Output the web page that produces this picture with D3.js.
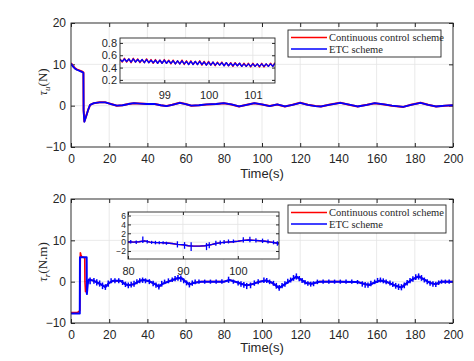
<!DOCTYPE html>
<html>
<head>
<meta charset="utf-8">
<script src="https://cdn.jsdelivr.net/npm/d3@7"></script>
<style>
  body { margin: 0; background: #fff; }
  .tick text { font-family: "Liberation Sans", Arial, sans-serif; fill: #262626; }
  .legend text { font-family: "Liberation Serif", "Times New Roman", serif; fill: #262626; }
</style>
</head>
<body>
<div id="chart"></div>
<script>
// ---- data ----
const mainXTicks = [0, 20, 40, 60, 80, 100, 120, 140, 160, 180, 200];
const mainYTicks = [-10, 0, 10, 20];
const legendLabels = ['Continuous control scheme', 'ETC scheme'];

// tau_u, main view
const tuTime = [0, 1, 2, 3, 4, 5, 6, 6.5, 6.6, 7, 8, 9, 10, 12, 15, 18, 21, 24, 27, 30, 33, 36, 40, 44, 47, 50, 53, 57, 60, 63, 67, 71, 76, 80, 84, 88, 92, 96, 100, 104, 108, 112, 116, 120, 124, 128, 131, 135, 141, 145, 150, 155, 159, 164, 168, 174, 178, 183, 187, 191, 196, 200];
const tuCont = [10.3, 9.6, 9.1, 8.8, 8.6, 8.4, 8.2, 8.0, -1.0, -3.8, -2.4, -1.0, 0.2, 0.6, 0.8, 0.8, 0.4, 0.0, 0.1, 0.4, 0.6, 0.5, 0.4, 0.4, 0.1, -0.1, 0.2, 0.7, 0.4, 0.0, 0.1, 0.3, 0.4, 0.6, 0.3, -0.2, 0.2, 0.6, 0.3, -0.1, 0.3, -0.2, 0.2, 0.7, 0.2, -0.1, -0.2, 0.2, 0.7, 0.3, -0.2, 0.2, 0.6, 0.3, 0.0, -0.3, 0.2, 0.7, 0.2, -0.2, 0.0, 0.1];
const tuEtc = [10.2, 9.5, 9.0, 8.7, 8.5, 8.3, 8.1, 7.9, -1.2, -3.9, -2.5, -1.0, 0.2, 0.6, 0.8, 0.8, 0.4, 0.0, 0.1, 0.4, 0.6, 0.5, 0.4, 0.4, 0.1, -0.1, 0.2, 0.7, 0.4, 0.0, 0.1, 0.3, 0.4, 0.6, 0.3, -0.2, 0.2, 0.6, 0.3, -0.1, 0.3, -0.2, 0.2, 0.7, 0.2, -0.1, -0.2, 0.2, 0.7, 0.3, -0.2, 0.2, 0.6, 0.3, 0.0, -0.3, 0.2, 0.7, 0.2, -0.2, 0.0, 0.1];

// tau_u, zoomed window 98 .. 101.5 s, sampled every 0.05 s
const tuInsetStart = 98, tuInsetStep = 0.05;
const tuInsetCont = [0.54, 0.49, 0.55, 0.49, 0.54, 0.48, 0.55, 0.49, 0.54, 0.48,
  0.53, 0.48, 0.54, 0.48, 0.53, 0.47, 0.53, 0.47, 0.52, 0.47,
  0.53, 0.47, 0.52, 0.46, 0.52, 0.46, 0.51, 0.46, 0.52, 0.45,
  0.51, 0.45, 0.51, 0.45, 0.50, 0.45, 0.51, 0.44, 0.50, 0.44,
  0.50, 0.44, 0.49, 0.43, 0.49, 0.44, 0.49, 0.43, 0.48, 0.43,
  0.48, 0.42, 0.48, 0.43, 0.47, 0.42, 0.47, 0.42, 0.47, 0.41,
  0.47, 0.42, 0.46, 0.41, 0.47, 0.41, 0.46, 0.42, 0.47, 0.42, 0.48];
const tuInsetEtc = [0.53, 0.50, 0.54, 0.50, 0.54, 0.49, 0.54, 0.49, 0.53, 0.49,
  0.53, 0.48, 0.53, 0.48, 0.52, 0.48, 0.52, 0.47, 0.52, 0.47,
  0.52, 0.47, 0.51, 0.47, 0.51, 0.46, 0.51, 0.46, 0.51, 0.46,
  0.50, 0.45, 0.50, 0.45, 0.50, 0.45, 0.50, 0.45, 0.49, 0.44,
  0.49, 0.44, 0.49, 0.44, 0.48, 0.44, 0.48, 0.43, 0.48, 0.43,
  0.47, 0.43, 0.47, 0.43, 0.47, 0.42, 0.46, 0.42, 0.46, 0.42,
  0.46, 0.42, 0.46, 0.42, 0.46, 0.42, 0.46, 0.42, 0.46, 0.42, 0.47];
const tuInsetXTicks = [99, 100, 101];
const tuInsetYTicks = [0.2, 0.4, 0.6, 0.8];

// tau_r, main view
const trContTime = [0, 3.5, 4.3, 4.6, 4.9, 5.2, 5.6, 7.2, 7.3, 7.6, 8.6, 9.4, 12, 15, 18, 20, 22, 26, 28, 30, 33, 36, 38, 41, 44, 46, 48, 52, 56, 58, 60, 62, 64, 68, 75, 80, 83, 86, 89, 92, 95, 98, 102, 105, 109, 112, 115, 118, 120, 123, 126, 130, 140, 150, 154, 156, 159, 162, 165, 170, 173, 176, 179, 182, 185, 188, 191, 194, 200];
const trCont = [-7.5, -7.4, -7.2, -6.9, 7.0, 6.5, 6.0, 5.8, 0.0, -2.4, -0.5, 0.5, 0.2, -0.5, -1.3, -0.3, 0.2, 0.2, -0.5, -0.9, -0.6, 0.2, 0.4, 0.1, -0.6, -1.2, -0.5, 0.2, 0.9, 0.8, 0.0, -0.7, -0.3, 0.0, 0.0, 0.0, 0.4, 0.0, -0.5, -0.9, -0.6, -0.1, 0.3, -0.2, -1.5, -0.6, 0.3, 1.2, 0.6, -0.3, -0.5, 0.0, 0.0, -0.1, -0.6, -0.8, -0.2, 0.3, 0.0, -1.0, -1.4, -0.3, 0.6, 1.3, 0.5, -0.3, -0.6, 0.0, 0.0];
const trEtcTime = [0, 4.6, 4.7, 8.2, 8.3, 8.8, 9.4, 12, 15, 18, 20, 22, 26, 28, 30, 33, 36, 38, 41, 44, 46, 48, 52, 56, 58, 60, 62, 64, 68, 75, 80, 83, 86, 89, 92, 95, 98, 102, 105, 109, 112, 115, 118, 120, 123, 126, 130, 140, 150, 154, 156, 159, 162, 165, 170, 173, 176, 179, 182, 185, 188, 191, 194, 200];
const trEtc = [-7.7, -7.7, 5.9, 5.9, -3.0, -0.5, 0.5, 0.2, -0.5, -1.3, -0.3, 0.2, 0.2, -0.5, -0.9, -0.6, 0.2, 0.4, 0.1, -0.6, -1.2, -0.5, 0.2, 0.9, 0.8, 0.0, -0.7, -0.3, 0.0, 0.0, 0.0, 0.4, 0.0, -0.5, -0.9, -0.6, -0.1, 0.3, -0.2, -1.5, -0.6, 0.3, 1.2, 0.6, -0.3, -0.5, 0.0, 0.0, -0.1, -0.6, -0.8, -0.2, 0.3, 0.0, -1.0, -1.4, -0.3, 0.6, 1.3, 0.5, -0.3, -0.6, 0.0, 0.0];
// ETC jumps: [time, low, high]
const trEtcSpikes = [[10, -0.6, 1.0], [12, -0.5, 0.9], [13.5, -0.9, 0.6], [15, -1.2, 0.3], [16.5, -1.8, -0.2], [18, -2.0, -0.6], [19.5, -1.2, 0.3], [21, -0.4, 0.8], [23, -0.4, 0.8], [25, -0.4, 0.8], [27, -0.8, 0.4], [28.5, -1.3, 0.0], [30, -1.6, -0.2], [31.5, -1.4, 0.0], [33, -1.2, 0.2], [34.5, -0.6, 0.6], [36, -0.4, 0.8], [37.5, -0.3, 1.0], [39, -0.4, 0.8], [41, -0.6, 0.6], [43, -1.1, 0.2], [44.5, -1.5, -0.2], [46, -1.9, -0.5], [47.5, -1.2, 0.2], [49, -0.6, 0.5], [51, -0.4, 0.8], [53, -0.1, 1.0], [54.5, 0.1, 1.4], [56, 0.2, 1.6], [57.5, 0.0, 1.5], [59, -0.4, 0.8], [60.5, -0.9, 0.3], [62, -1.4, -0.1], [63.5, -1.0, 0.3], [65, -0.6, 0.5], [67, -0.5, 0.5], [70, -0.5, 0.5], [73, -0.5, 0.5], [76, -0.5, 0.5], [79, -0.5, 0.6], [82.5, -0.3, 1.2], [85, -0.5, 0.5], [87.5, -0.9, 0.2], [89, -1.2, 0.1], [90.5, -1.5, -0.1], [92, -1.8, -0.3], [94, -1.6, -0.2], [96, -1.0, 0.3], [98, -0.6, 0.6], [101, -0.3, 1.0], [102.5, -0.3, 0.9], [104, -0.6, 0.5], [106, -1.0, 0.2], [107.5, -1.7, -0.3], [109, -2.2, -0.8], [110.5, -1.6, -0.3], [112, -1.2, 0.1], [113.5, -0.5, 0.7], [115, -0.2, 1.0], [116.5, 0.2, 1.6], [118, 0.5, 2.0], [119.5, 0.1, 1.4], [121, -0.3, 0.9], [122.5, -0.7, 0.4], [124, -1.0, 0.1], [125.5, -1.2, 0.0], [127, -1.1, 0.1], [129, -0.6, 0.5], [132, -0.5, 0.5], [135, -0.5, 0.5], [138, -0.5, 0.5], [141, -0.5, 0.5], [144, -0.5, 0.5], [147, -0.5, 0.5], [150, -0.6, 0.4], [152.5, -1.2, 0.1], [154, -1.5, -0.1], [155.5, -1.5, -0.2], [157, -1.1, 0.2], [159, -0.6, 0.5], [160.5, -0.3, 0.9], [162, -0.2, 1.0], [163.5, -0.4, 0.8], [165, -0.6, 0.5], [167, -0.9, 0.3], [168.5, -1.3, 0.0], [170, -1.7, -0.3], [171.5, -2.0, -0.5], [173, -2.1, -0.6], [174.5, -1.6, -0.2], [176, -0.9, 0.4], [177.5, -0.4, 0.9], [179, 0.0, 1.3], [180.5, 0.4, 1.8], [182, 0.5, 2.0], [183.5, 0.2, 1.6], [185, -0.2, 1.0], [186.5, -0.6, 0.6], [188, -1.0, 0.2], [189.5, -1.2, 0.1], [191, -1.3, 0.0], [192.5, -0.8, 0.3], [194, -0.5, 0.5], [196, -0.5, 0.5], [198, -0.5, 0.5]];

// tau_r, zoomed window 80 .. 107.5 s
const trInsetTime = [80, 81, 82, 83, 84, 85, 86, 87, 88, 89, 90, 91, 92, 93, 94, 95, 96, 97, 98, 99, 100, 101, 102, 103, 104, 105, 106, 107, 107.5];
const trInsetCont = [0.1, 0.0, 0.1, 0.3, 0.0, -0.1, -0.1, -0.2, -0.3, -0.5, -0.6, -0.8, -0.9, -0.9, -0.8, -0.6, -0.3, -0.1, 0.0, 0.1, 0.2, 0.4, 0.5, 0.4, 0.3, 0.2, 0.0, -0.2, -0.4];
const trInsetEtc = [0.1, 0.0, 0.1, 0.3, 0.0, -0.1, -0.1, -0.2, -0.3, -0.5, -0.6, -0.8, -0.9, -0.9, -0.8, -0.6, -0.3, -0.1, 0.0, 0.1, 0.2, 0.4, 0.5, 0.4, 0.3, 0.2, 0.0, -0.2, -0.4];
const trInsetSpikes = [[80.5, -0.3, 0.5], [81.5, -0.4, 0.4], [82.7, -0.2, 1.3], [83.5, -0.3, 0.5], [84.3, -0.4, 0.3], [85, -0.5, 0.3], [85.7, -0.5, 0.2], [86.4, -0.5, 0.2], [87, -0.6, 0.1], [89, -1.2, 0.2], [90.3, -1.5, 0.0], [91.5, -2.0, 0.0], [94.3, -1.8, -0.2], [94.8, -1.4, 0.0], [96, -0.8, 0.3], [96.8, -0.6, 0.4], [97.5, -0.4, 0.5], [98.3, -0.3, 0.6], [99.2, -0.2, 0.6], [101, -0.1, 1.1], [102.2, 0.0, 1.2], [103.3, -0.1, 0.9], [104.5, -0.2, 0.8], [105.5, -0.3, 0.6], [106.5, -0.5, 0.4], [107.2, -0.8, 0.2]];
const trInsetXTicks = [80, 90, 100];
const trInsetYTicks = [-2, 0, 2, 4, 6];

// ---- drawing ----
const W = 474, H = 361;
const RED = '#ff0000', BLUE = '#0000ff';
const svg = d3.select('#chart').append('svg').attr('width', W).attr('height', H);

function zipSeries(t, v) { return t.map((d, i) => [d, v[i]]); }

function axesBox(g, x, y, xt, yt, opts) {
    const [x0, x1] = x.range(), [y1, y0] = y.range();
    g.append('rect').attr('x', x0).attr('y', y0).attr('width', x1 - x0).attr('height', y1 - y0)
        .attr('fill', '#fff');
    g.append('g').selectAll('line').data(xt).enter().append('line')
        .attr('x1', d => x(d)).attr('x2', d => x(d)).attr('y1', y0).attr('y2', y1)
        .attr('stroke', '#e3e3e3').attr('stroke-width', 0.8);
    g.append('g').selectAll('line').data(yt).enter().append('line')
        .attr('y1', d => y(d)).attr('y2', d => y(d)).attr('x1', x0).attr('x2', x1)
        .attr('stroke', '#e3e3e3').attr('stroke-width', 0.8);

    const ts = opts.tick;
    const bottom = g.append('g').attr('transform', `translate(0,${y1})`)
        .call(d3.axisBottom(x).tickValues(xt).tickSize(-ts).tickPadding(opts.xPad).tickFormat(d3.format('')));
    const top = g.append('g').attr('transform', `translate(0,${y0})`)
        .call(d3.axisTop(x).tickValues(xt).tickSize(-ts).tickFormat(''));
    const left = g.append('g').attr('transform', `translate(${x0},0)`)
        .call(d3.axisLeft(y).tickValues(yt).tickSize(-ts).tickPadding(opts.yPad).tickFormat(d3.format('')));
    const right = g.append('g').attr('transform', `translate(${x1},0)`)
        .call(d3.axisRight(y).tickValues(yt).tickSize(-ts).tickFormat(''));
    [bottom, top, left, right].forEach(a => {
        a.select('.domain').remove();
        a.selectAll('.tick line').attr('stroke', '#262626');
    });
    bottom.selectAll('.tick text').style('font-size', (opts.xFont || opts.font) + 'px');
    left.selectAll('.tick text').style('font-size', opts.font + 'px');
    return () => g.append('rect').attr('x', x0).attr('y', y0).attr('width', x1 - x0).attr('height', y1 - y0)
        .attr('fill', 'none').attr('stroke', '#262626').attr('stroke-width', 0.9);
}

function drawLine(g, x, y, data, color, width, clip) {
    g.append('path').datum(data)
        .attr('fill', 'none').attr('stroke', color).attr('stroke-width', width)
        .attr('stroke-linejoin', 'round')
        .attr('clip-path', clip)
        .attr('d', d3.line().x(d => x(d[0])).y(d => y(d[1])));
}

function drawSpikes(g, x, y, spikes, color, width, clip) {
    g.append('g').attr('clip-path', clip).selectAll('line').data(spikes).enter().append('line')
        .attr('x1', d => x(d[0])).attr('x2', d => x(d[0]))
        .attr('y1', d => y(d[1])).attr('y2', d => y(d[2]))
        .attr('stroke', color).attr('stroke-width', width);
}

function clipFor(id, x, y) {
    const [x0, x1] = x.range(), [y1, y0] = y.range();
    svg.append('clipPath').attr('id', id).append('rect')
        .attr('x', x0).attr('y', y0).attr('width', x1 - x0).attr('height', y1 - y0);
    return `url(#${id})`;
}

function legend(g, x0, y0, w, h) {
    const lg = g.append('g').attr('class', 'legend');
    lg.append('rect').attr('x', x0).attr('y', y0).attr('width', w).attr('height', h)
        .attr('fill', '#fff').attr('stroke', '#262626').attr('stroke-width', 0.9);
    [RED, BLUE].forEach((c, i) => {
        const ly = y0 + 7.5 + i * 11.5;
        lg.append('line').attr('x1', x0 + 3).attr('x2', x0 + 39).attr('y1', ly).attr('y2', ly)
            .attr('stroke', c).attr('stroke-width', 1.5);
        lg.append('text').attr('x', x0 + 41).attr('y', ly + 3.5).style('font-size', '10.5px')
            .text(legendLabels[i]);
    });
}

function yLabel(g, cx, cy, sub, unit) {
    const t = g.append('text').attr('transform', `translate(${cx},${cy}) rotate(-90)`)
        .attr('text-anchor', 'middle')
        .style('font-family', '"Liberation Serif", serif').style('font-size', '13px').attr('fill', '#262626');
    t.append('tspan').style('font-style', 'italic').text('τ');
    t.append('tspan').style('font-style', 'italic').style('font-size', '9px').attr('dy', 3).text(sub);
    t.append('tspan').attr('dy', -3).text('(' + unit + ')');
}

function xTitle(g, cx, by) {
    g.append('text').attr('x', cx).attr('y', by).attr('text-anchor', 'middle')
        .style('font-family', '"Liberation Sans", Arial, sans-serif').style('font-size', '13px')
        .attr('fill', '#262626').text('Time(s)');
}

// ---- top panel: tau_u ----
{
    const g = svg.append('g');
    const x = d3.scaleLinear().domain([0, 200]).range([71, 453]);
    const y = d3.scaleLinear().domain([-10, 20]).range([147, 23]);
    const frame = axesBox(g, x, y, mainXTicks, mainYTicks, { tick: 4, xPad: 7, yPad: 5, font: 12 });
    const clip = clipFor('c1', x, y);
    drawLine(g, x, y, zipSeries(tuTime, tuCont), RED, 2, clip);
    drawLine(g, x, y, zipSeries(tuTime, tuEtc), BLUE, 1.8, clip);
    frame();

    const xi = d3.scaleLinear().domain([98, 101.5]).range([120, 275]);
    const yi = d3.scaleLinear().domain([0.15, 0.88]).range([83, 38]);
    const frameI = axesBox(g, xi, yi, tuInsetXTicks, tuInsetYTicks, { tick: 3, xPad: 8, yPad: 3, font: 11 });
    const clipI = clipFor('c2', xi, yi);
    const tIns = tuInsetCont.map((d, i) => tuInsetStart + i * tuInsetStep);
    drawLine(g, xi, yi, zipSeries(tIns, tuInsetCont), RED, 1.4, clipI);
    drawLine(g, xi, yi, zipSeries(tIns, tuInsetEtc), BLUE, 1.4, clipI);
    frameI();

    legend(g, 288, 30, 153, 27);
    yLabel(g, 47, 82, 'u', 'N');
    xTitle(g, 262, 178);
}

// ---- bottom panel: tau_r ----
{
    const g = svg.append('g');
    const x = d3.scaleLinear().domain([0, 200]).range([71, 453]);
    const y = d3.scaleLinear().domain([-10, 20]).range([323, 199]);
    const frame = axesBox(g, x, y, mainXTicks, mainYTicks, { tick: 4, xPad: 7, yPad: 5, font: 12 });
    const clip = clipFor('c3', x, y);
    drawLine(g, x, y, zipSeries(trContTime, trCont), RED, 1.6, clip);
    drawLine(g, x, y, zipSeries(trEtcTime, trEtc), BLUE, 2, clip);
    drawSpikes(g, x, y, trEtcSpikes, BLUE, 1.5, clip);
    frame();

    const xi = d3.scaleLinear().domain([80, 107.5]).range([128, 279]);
    const yi = d3.scaleLinear().domain([-3.8, 6.8]).range([259, 212]);
    const frameI = axesBox(g, xi, yi, trInsetXTicks, trInsetYTicks, { tick: 3, xPad: 8, yPad: 2, font: 8.5, xFont: 11 });
    const clipI = clipFor('c4', xi, yi);
    drawLine(g, xi, yi, zipSeries(trInsetTime, trInsetCont), RED, 1.4, clipI);
    drawLine(g, xi, yi, zipSeries(trInsetTime, trInsetEtc), BLUE, 1.4, clipI);
    drawSpikes(g, xi, yi, trInsetSpikes, BLUE, 1.3, clipI);
    frameI();

    legend(g, 288, 205, 158, 28);
    yLabel(g, 47, 262, 'r', 'N.m');
    xTitle(g, 262, 352);
}
</script>
</body>
</html>
